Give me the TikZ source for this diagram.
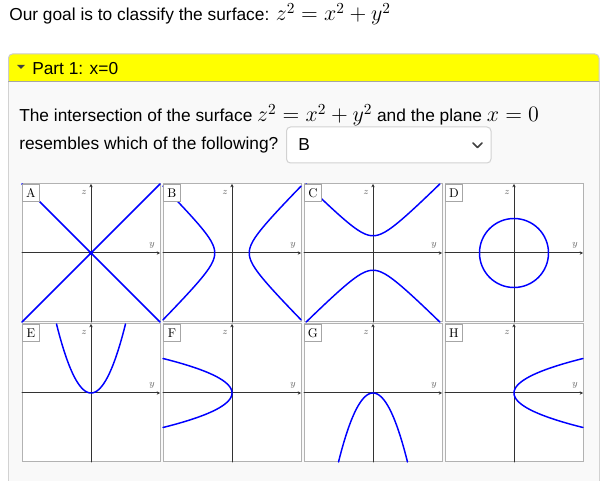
\documentclass[tikz,border=0pt]{standalone}
\usepackage{fix-cm}
\usepackage{fontspec}
\setsansfont{Liberation Sans}
\DeclareMathSizes{13}{16.5}{11.5}{8.25}
\usetikzlibrary{arrows.meta}
\definecolor{hdryellow}{HTML}{FFFF00}
\definecolor{panelgray}{HTML}{F9F9F9}
\tikzset{
  txt/.style={anchor=base west,inner sep=0pt,font=\sffamily\fontsize{13}{16}\selectfont},
  frame/.style={draw=gray!60,fill=white,line width=0.75pt},
  axis/.style={black!80,line width=0.75pt},
  curve/.style={blue,line width=1.1pt,line join=round},
  axlab/.style={inner sep=0pt,text=gray!80!black,font=\fontsize{7}{8}\selectfont},
  tag/.style={draw=gray!70,fill=white,line width=0.6pt,minimum width=12.75pt,minimum height=12.75pt,
    inner sep=0pt,anchor=north west,font=\rmfamily\fontsize{9.5}{10}\selectfont}
}
\begin{document}
\begin{tikzpicture}[>={Stealth[length=2.5pt,width=2.5pt]},x=0.75pt,y=-0.75pt,line cap=round]
\useasboundingbox (0,0) rectangle (601,481);
\fill[white] (0,0) rectangle (601,481);
% title
\node[txt] (title) at (9,21) {Our goal is to classify the surface: $z^2 = x^2+y^2$};
% panel
\fill[panelgray] (8.5,82) rectangle (599,481);
\draw[gray!35,line width=0.75pt] (8.5,481) -- (8.5,82) (599,82) -- (599,481);
\draw[fill=hdryellow,draw=gray!40,line width=0.75pt,rounded corners=3pt] (8.5,82) -- (8.5,54) -- (599,54) -- (599,82);
\draw[gray!70,line width=0.75pt] (8.5,82) -- (599,82);
\fill[black!75] (17,65) -- (25,65) -- (21,69) -- cycle;
\node[txt] (part) at (32,75) {Part 1: x=0};
% question
\node[txt] (q1) at (19,122) {The intersection of the surface $z^2 = x^2+y^2$ and the plane $x=0$};
\node[txt] (q2) at (19,150) {resembles which of the following?};
\draw[draw=gray!35,fill=white,line width=0.75pt,rounded corners=3pt] (286.5,127) rectangle (491,163);
\node[txt] (ans) at (298,151) {B};
\draw[black!75,line width=1.3pt,line join=round] (473,143) -- (477.5,147.5) -- (482,143);
% frames and axes
\foreach \lx/\ty in {22/184,163/184,304/184,445/184,22/324,163/324,304/324,445/324}{
  \draw[frame] (\lx,\ty) rectangle ++(138,138);
  \draw[axis,->] (\lx,\ty+69) -- ++(138,0);
  \draw[axis,->] (\lx+69,\ty+138) -- ++(0,-138);
  \node[axlab] at (\lx+62,\ty+8) {$z$};
  \node[axlab] at (\lx+130,\ty+61) {$y$};
}
% curves
\begin{scope}[shift={(91,253)},x=12.94pt,y=12.94pt]
  \draw[curve] (-4,-4) -- (4,4) (-4,4) -- (4,-4);
  \fill[blue] (0,0) circle (1.5pt);
\end{scope}
\begin{scope}[shift={(232,253)},x=12.94pt,y=12.94pt]
  \draw[curve,domain=-3.873:3.873,samples=80] plot ({sqrt(1+(\x)^2)},\x);
  \draw[curve,domain=-3.873:3.873,samples=80] plot ({-sqrt(1+(\x)^2)},\x);
\end{scope}
\begin{scope}[shift={(373,253)},x=12.94pt,y=12.94pt]
  \draw[curve,domain=-3.873:3.873,samples=80] plot (\x,{sqrt(1+(\x)^2)});
  \draw[curve,domain=-3.873:3.873,samples=80] plot (\x,{-sqrt(1+(\x)^2)});
\end{scope}
\begin{scope}[shift={(514,253)},x=12.94pt,y=12.94pt]
  \draw[curve] (0,0) circle (2);
\end{scope}
\begin{scope}[shift={(91,393)},x=12.94pt,y=12.94pt]
  \draw[curve,domain=-2:2,samples=80] plot (\x,{(\x)^2});
\end{scope}
\begin{scope}[shift={(232,393)},x=12.94pt,y=12.94pt]
  \draw[curve,domain=-2:2,samples=80] plot ({-(\x)^2},\x);
\end{scope}
\begin{scope}[shift={(373,393)},x=12.94pt,y=12.94pt]
  \draw[curve,domain=-2:2,samples=80] plot (\x,{-(\x)^2});
\end{scope}
\begin{scope}[shift={(514,393)},x=12.94pt,y=12.94pt]
  \draw[curve,domain=-2:2,samples=80] plot ({(\x)^2},\x);
\end{scope}
% letter tags
\foreach \lx/\ty/\lab in {22/184/A,163/184/B,304/184/C,445/184/D,22/324/E,163/324/F,304/324/G,445/324/H}{
  \node[tag] (tag\lab) at (\lx,\ty) {\lab};
}
\end{tikzpicture}
\end{document}
